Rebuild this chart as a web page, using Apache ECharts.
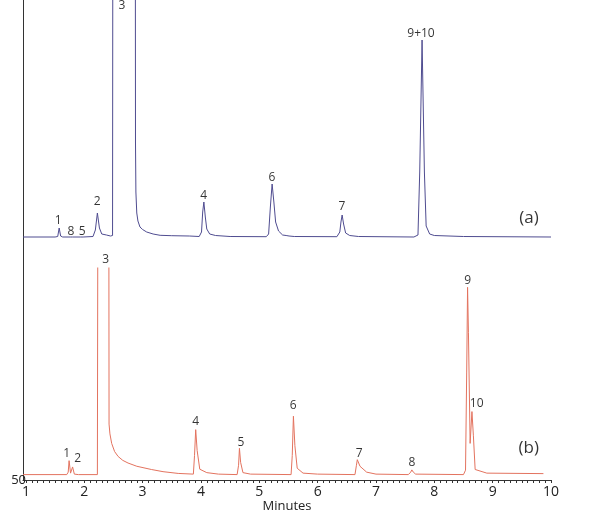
<!DOCTYPE html>
<html>
<head>
<meta charset="utf-8">
<script src="https://cdn.jsdelivr.net/npm/echarts@6/dist/echarts.min.js"></script>
<style>
html,body{margin:0;padding:0;background:#fff;}
#chart{width:602px;height:514px;}
</style>
</head>
<body>
<div id="chart"></div>
<script>
// ---- Trace (a): retention time (min) and signal ----
const timeA = [0.95,1.50,1.545,1.57,1.595,1.63,1.76,1.78,1.80,1.94,1.96,1.98,2.15,2.19,2.225,2.26,2.30,2.38,2.45,2.485,2.49,2.875,2.878,2.885,2.90,2.92,2.955,3.00,3.07,3.18,3.30,3.50,3.80,3.97,4.01,4.03,4.05,4.075,4.10,4.15,4.25,4.50,5.12,5.16,5.19,5.22,5.25,5.28,5.33,5.40,5.46,5.48,5.51,5.60,6.33,6.38,6.40,6.42,6.445,6.48,6.55,6.70,7.65,7.72,7.75,7.79,7.83,7.86,7.92,8.00,8.50,10.0];
const signalA = [55,55,55.5,64,56,55,55,56,55,55,56,55,55.5,62,79,64,58,57,56,56.5,400,400,150,100,79,71,65,62.5,60,58,56.7,56.3,56,55.5,60,80,90,75,63,58,56.5,55.5,55.3,58,85,108,90,70,61,57,56.5,58,56,55.5,55.3,60,70,77,68,59,56.5,55.5,55,57,120,252,120,66,58,56.5,55.5,55];

// ---- Trace (b) ----
const timeB = [0.95,1.70,1.725,1.74,1.765,1.78,1.80,1.83,1.90,2.225,2.235,2.42,2.425,2.44,2.47,2.52,2.58,2.66,2.75,2.90,3.15,3.35,3.61,3.87,3.89,3.91,3.935,3.98,4.10,4.30,4.62,4.645,4.66,4.68,4.72,4.85,5.545,5.565,5.585,5.61,5.65,5.75,6.00,6.64,6.665,6.68,6.726,6.84,7.00,7.555,7.595,7.615,7.64,7.68,8.50,8.535,8.555,8.57,8.585,8.614,8.645,8.67,8.70,8.90,9.87];
const signalB = [55.5,55.5,58,69.7,57,57,63.3,56,55.5,55.5,400,400,107,97,87.3,79,74,70,67.3,64,60.7,58.5,56.7,56,75,101.3,80,61,57.5,56,55.5,65,82.3,68,57.5,56,55.5,75,115,85,62,57,56,55.5,65,70.7,64,58,56,55.5,58,60.3,58,56,55.5,60,160,246.3,200,87.3,119.7,95,60.7,57,56.5];

// ---- Peak labels (text, time, signal at label centre) ----
const labelTextA = ['1','8','5','2','3','4','6','7','9+10','(a)'];
const labelTimeA = [1.554,1.77,1.965,2.222,2.646,4.046,5.217,6.417,7.772,9.623];
const labelSignalA = [71.5,60.5,60.5,90.3,286,96,114,85,258,74];

const labelTextB = ['1','2','3','4','5','6','7','8','9','10','(b)'];
const labelTimeB = [1.698,1.886,2.366,3.909,4.686,5.583,6.714,7.617,8.572,8.727,9.618];
const labelSignalB = [77.3,72.3,275,109.7,88,125.7,77.3,67.3,253,128,82.3];

// ---- Axis ticks ----
const xTickLabels = [1,2,3,4,5,6,7,8,9,10];
const yTickLabelB = [50];

const FONT = 'Open Sans';
function pairs(t, v){ return t.map((x,i)=>[x, v[i]]); }
function labelData(txt, t, v){
  return txt.map((s,i)=>{
    const item = {value:[t[i], v[i]], name:s};
    if (s.charAt(0)==='(') item.label = {fontSize:17};
    return item;
  });
}
const minorTicks = [];
for (let i=10;i<=100;i++) minorTicks.push(i/10);

const chart = echarts.init(document.getElementById('chart'), null, {renderer:'canvas'});
const axisColor = '#333';
chart.setOption({
  animation:false,
  backgroundColor:'#fff',
  grid:[
    {left:23, right:51, top:0, height:268},
    {left:23, right:51, top:268, height:216}
  ],
  xAxis:[
    {gridIndex:0, type:'value', min:0.95, max:10, show:false},
    {gridIndex:1, type:'value', min:0.95, max:10,
     name:'Minutes', nameLocation:'middle', nameGap:20,
     nameTextStyle:{fontFamily:FONT, fontSize:13, color:'#222'},
     axisLine:{show:true, lineStyle:{color:axisColor, width:1}},
     axisTick:{show:true, customValues:minorTicks, length:3, lineStyle:{color:axisColor}},
     axisLabel:{show:true, customValues:xTickLabels, margin:5, fontFamily:FONT, fontSize:14, color:'#222'},
     splitLine:{show:false}}
  ],
  yAxis:[
    {gridIndex:0, type:'value', min:24, max:292,
     axisLine:{show:true, lineStyle:{color:axisColor, width:1}},
     axisTick:{show:false}, axisLabel:{show:false}, splitLine:{show:false}},
    {gridIndex:1, type:'value', min:50, max:266,
     axisLine:{show:true, lineStyle:{color:axisColor, width:1}},
     axisTick:{show:false},
     axisLabel:{show:true, customValues:yTickLabelB, margin:-3, fontFamily:FONT, fontSize:13, color:'#222'},
     splitLine:{show:false}}
  ],
  series:[
    {type:'line', xAxisIndex:0, yAxisIndex:0, data:pairs(timeA, signalA),
     showSymbol:false, symbol:'none', clip:true,
     lineStyle:{color:'#4f4c90', width:1}},
    {type:'line', xAxisIndex:1, yAxisIndex:1, data:pairs(timeB, signalB),
     showSymbol:false, symbol:'none', clip:true,
     lineStyle:{color:'#e3735f', width:1}},
    {type:'scatter', xAxisIndex:0, yAxisIndex:0, clip:false, symbolSize:1,
     itemStyle:{color:'rgba(0,0,0,0)'},
     data:labelData(labelTextA, labelTimeA, labelSignalA),
     label:{show:true, position:'inside', formatter:'{b}', fontFamily:FONT, fontSize:12, color:'#000'}},
    {type:'scatter', xAxisIndex:1, yAxisIndex:1, clip:false, symbolSize:1,
     itemStyle:{color:'rgba(0,0,0,0)'},
     data:labelData(labelTextB, labelTimeB, labelSignalB),
     label:{show:true, position:'inside', formatter:'{b}', fontFamily:FONT, fontSize:12, color:'#000'}}
  ]
});
</script>
</body>
</html>
